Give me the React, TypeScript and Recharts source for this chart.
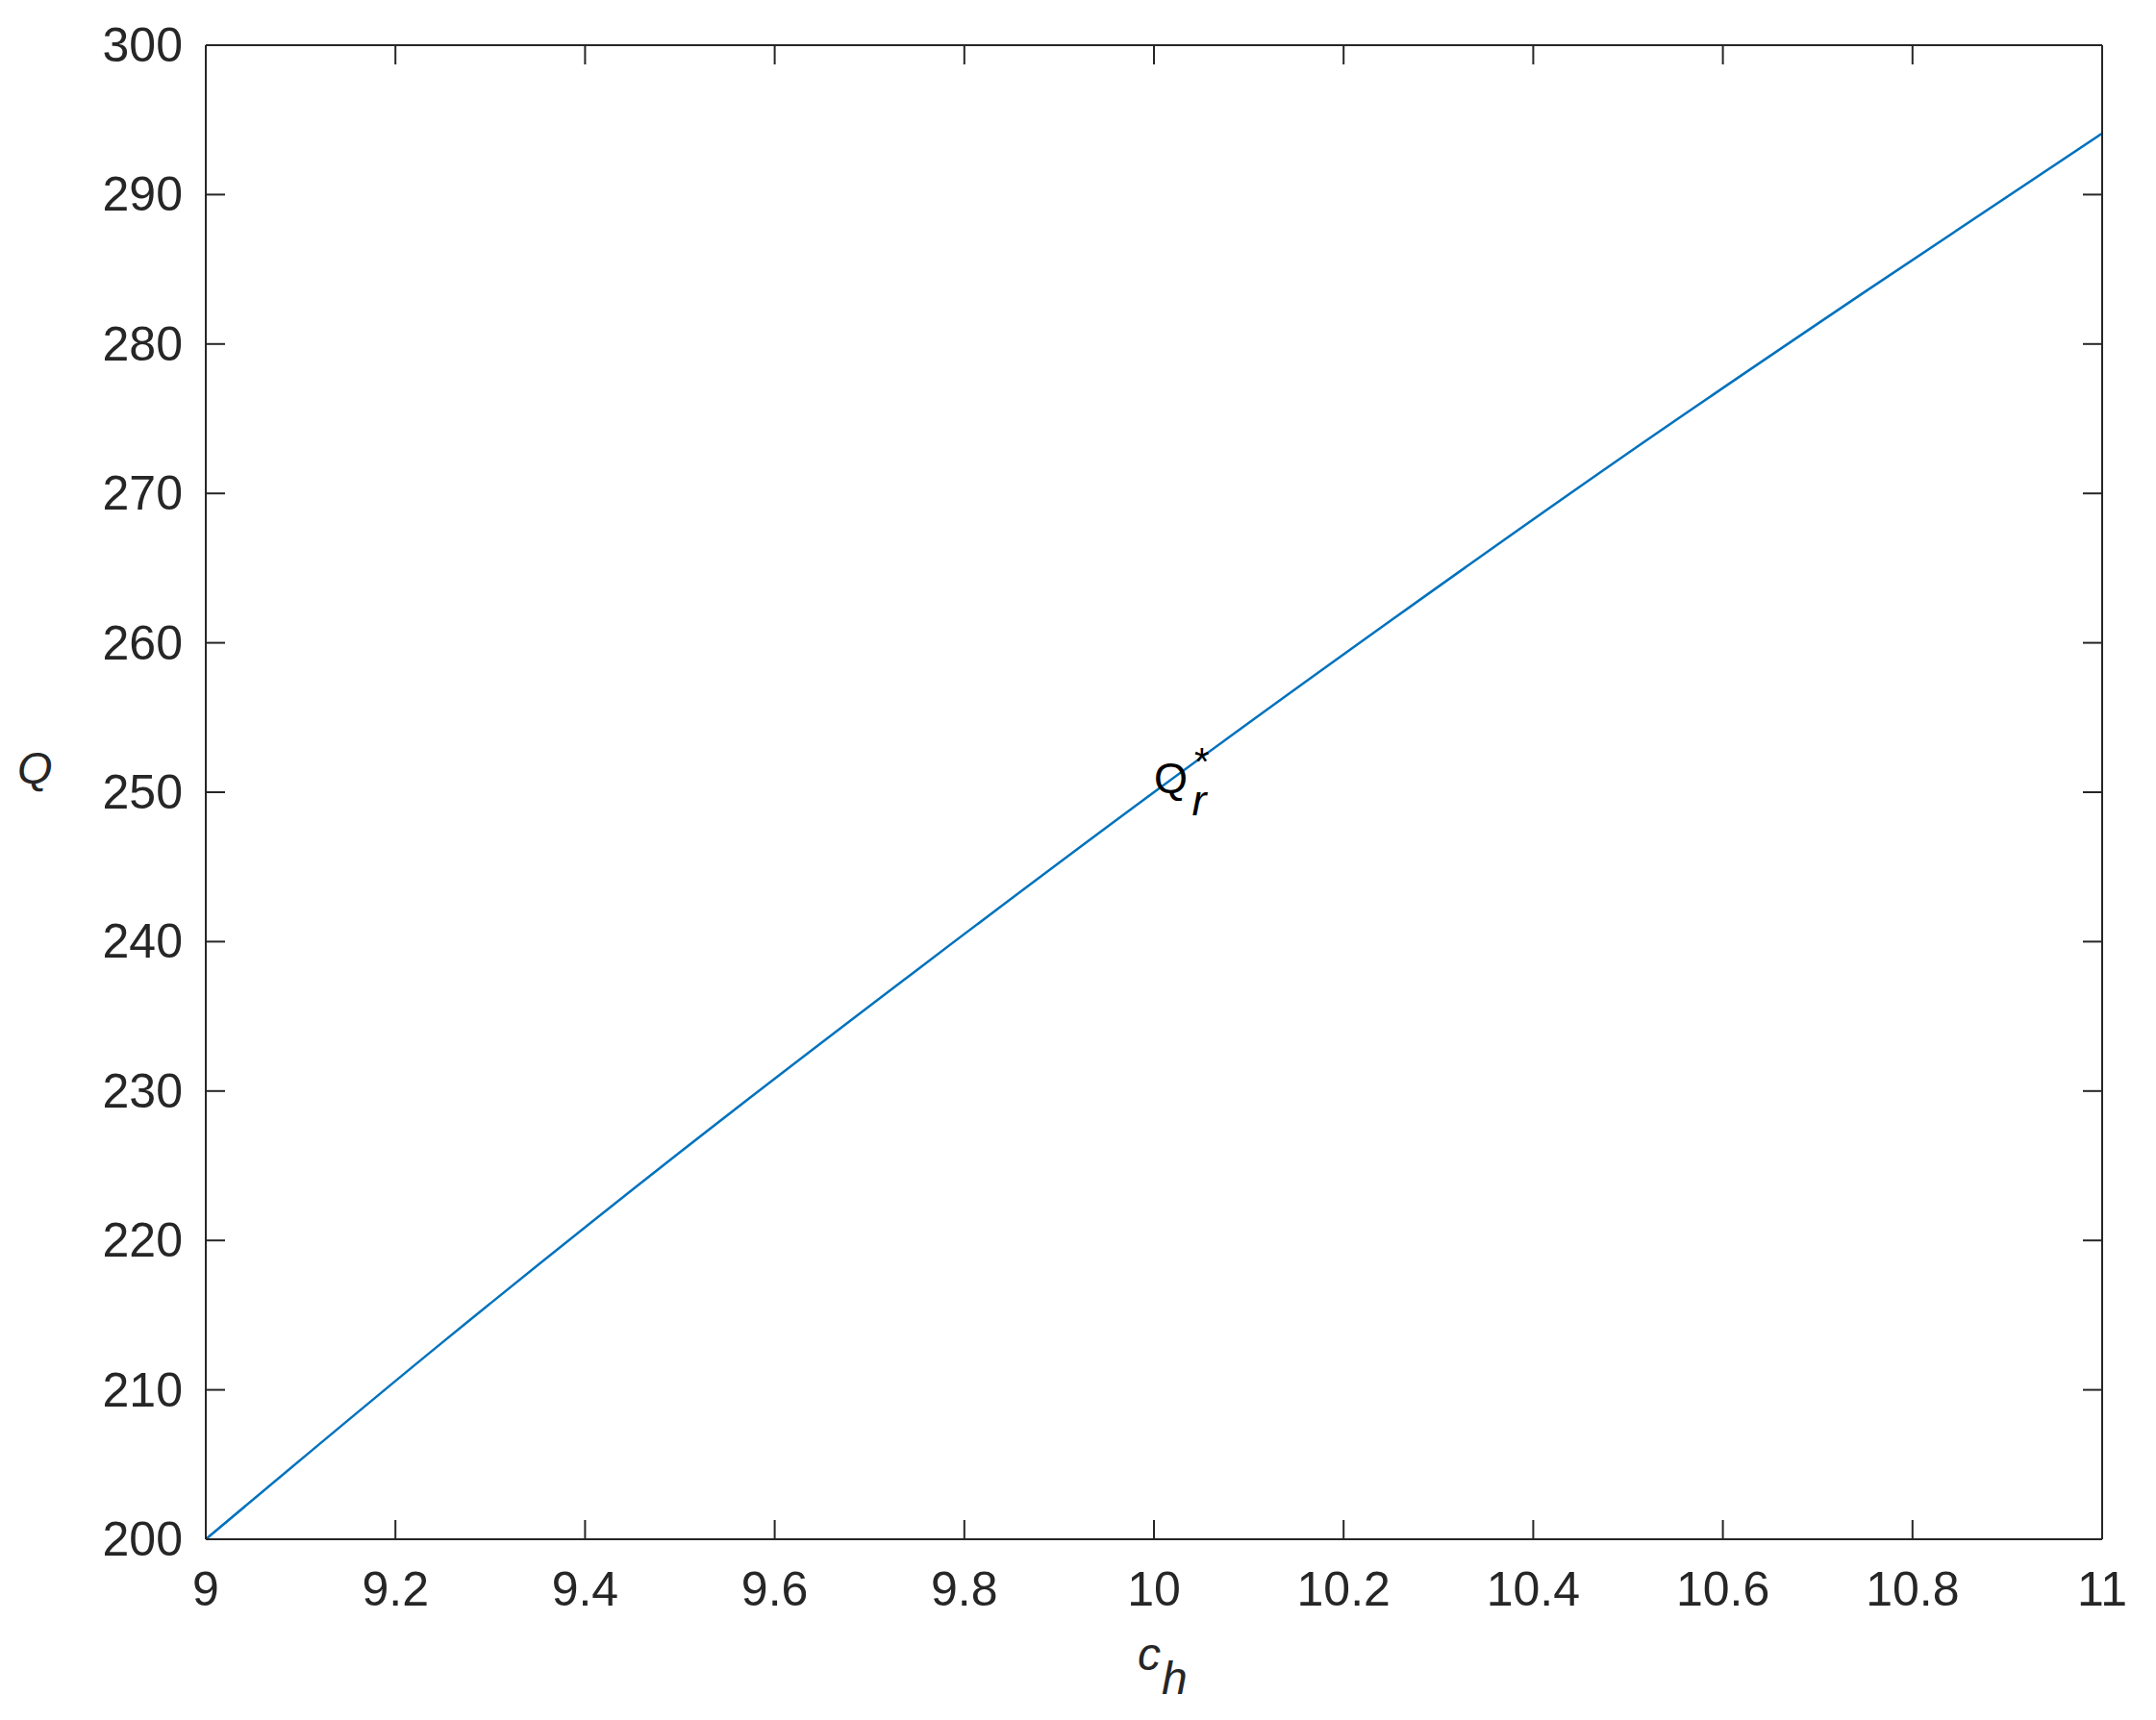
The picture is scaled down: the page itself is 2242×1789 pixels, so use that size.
import React from 'react';
import { LineChart, Line, XAxis, YAxis, ReferenceDot } from 'recharts';

// c_h values and the optimal order quantity
const cH = [9, 9.25, 9.5, 9.75, 10, 10.25, 10.5, 10.75, 11];
const qValues = [200, 213.2, 225.9, 238.1, 250, 261.5, 272.7, 283.5, 294.1];

const xTicks = [9, 9.2, 9.4, 9.6, 9.8, 10, 10.2, 10.4, 10.6, 10.8, 11];
const yTicks = [200, 210, 220, 230, 240, 250, 260, 270, 280, 290, 300];

const markerPoint = { c: 10, q: 250 };

const FONT = '"Liberation Sans", Arial, Helvetica, sans-serif';
const INK = '#262626';
const TICK_LEN = 20;

const data = cH.map((c, i) => ({ c, q: qValues[i] }));

const LeftTick = (props: any) => {
  const { x, y, payload } = props;
  const axisX = x + 24;
  return (
    <g>
      <line x1={axisX} y1={y} x2={axisX + TICK_LEN} y2={y} stroke={INK} strokeWidth={2} />
      <text x={x} y={y} textAnchor="end" dominantBaseline="central" fontFamily={FONT} fontSize={50} fill={INK}>
        {String(payload.value)}
      </text>
    </g>
  );
};

const BottomTick = (props: any) => {
  const { x, y, payload } = props;
  const axisY = y - 33;
  return (
    <g>
      <line x1={x} y1={axisY} x2={x} y2={axisY - TICK_LEN} stroke={INK} strokeWidth={2} />
      <text x={x} y={y} dy="0.71em" textAnchor="middle" fontFamily={FONT} fontSize={50} fill={INK}>
        {String(payload.value)}
      </text>
    </g>
  );
};

const RightTick = (props: any) => {
  const { x, y } = props;
  return <line x1={x} y1={y} x2={x - TICK_LEN} y2={y} stroke={INK} strokeWidth={2} />;
};

const TopTick = (props: any) => {
  const { x, y } = props;
  return <line x1={x} y1={y} x2={x} y2={y + TICK_LEN} stroke={INK} strokeWidth={2} />;
};

const XLabel = (props: any) => {
  const { x, y, width } = props.viewBox;
  const cx = x + width / 2;
  return (
    <text x={cx - 17} y={y + 136} fontFamily={FONT} fontStyle="italic" fontSize={48} fill={INK}>
      c<tspan dx={1} dy={25}>h</tspan>
    </text>
  );
};

const YLabel = (props: any) => {
  const { y, height } = props.viewBox;
  const cy = y + height / 2;
  return (
    <text x={18} y={cy - 9} fontFamily={FONT} fontStyle="italic" fontSize={47} fill={INK}>
      Q
    </text>
  );
};

const MarkerLabel = (props: any) => {
  const { x, y } = props.viewBox;
  return (
    <text x={x} y={y + 1} fontFamily={FONT} fontSize={45} fill="#000">
      Q
      <tspan dx={7} dy={-19} fontSize={40}>*</tspan>
      <tspan dx={-18} dy={42} fontStyle="italic">r</tspan>
    </text>
  );
};

export default function App() {
  return (
    <div style={{ position: 'absolute', left: 0, top: 0, width: 2242, height: 1789, background: '#fff' }}>
      <LineChart width={2242} height={1789} data={data} margin={{ top: 46, right: 55, bottom: 88, left: 114 }}>
        <XAxis
          dataKey="c"
          type="number"
          domain={[9, 11]}
          ticks={xTicks}
          height={100}
          tickSize={0}
          tickMargin={33}
          tickLine={false}
          tick={BottomTick}
          axisLine={{ stroke: INK, strokeWidth: 2 }}
          label={{ content: XLabel }}
          allowDataOverflow
        />
        <XAxis
          xAxisId="top"
          dataKey="c"
          orientation="top"
          type="number"
          domain={[9, 11]}
          ticks={xTicks}
          height={1}
          tickSize={0}
          tickMargin={0}
          tickLine={false}
          tick={TopTick}
          axisLine={{ stroke: INK, strokeWidth: 2 }}
          allowDataOverflow
        />
        <YAxis
          type="number"
          domain={[200, 300]}
          ticks={yTicks}
          width={100}
          tickSize={0}
          tickMargin={24}
          tickLine={false}
          tick={LeftTick}
          axisLine={{ stroke: INK, strokeWidth: 2 }}
          label={{ content: YLabel }}
          allowDataOverflow
        />
        <YAxis
          yAxisId="right"
          orientation="right"
          type="number"
          domain={[200, 300]}
          ticks={yTicks}
          width={1}
          tickSize={0}
          tickMargin={0}
          tickLine={false}
          tick={RightTick}
          axisLine={{ stroke: INK, strokeWidth: 2 }}
          allowDataOverflow
        />
        {/* invisible twin so the mirrored top/right axes get a scale */}
        <Line
          xAxisId="top"
          yAxisId="right"
          dataKey="q"
          stroke="none"
          dot={false}
          activeDot={false}
          isAnimationActive={false}
        />
        <Line
          type="monotone"
          dataKey="q"
          stroke="#0072BD"
          strokeWidth={2.5}
          dot={false}
          activeDot={false}
          isAnimationActive={false}
        />
        <ReferenceDot x={markerPoint.c} y={markerPoint.q} r={0} stroke="none" fill="none" label={{ content: MarkerLabel }} />
      </LineChart>
    </div>
  );
}
